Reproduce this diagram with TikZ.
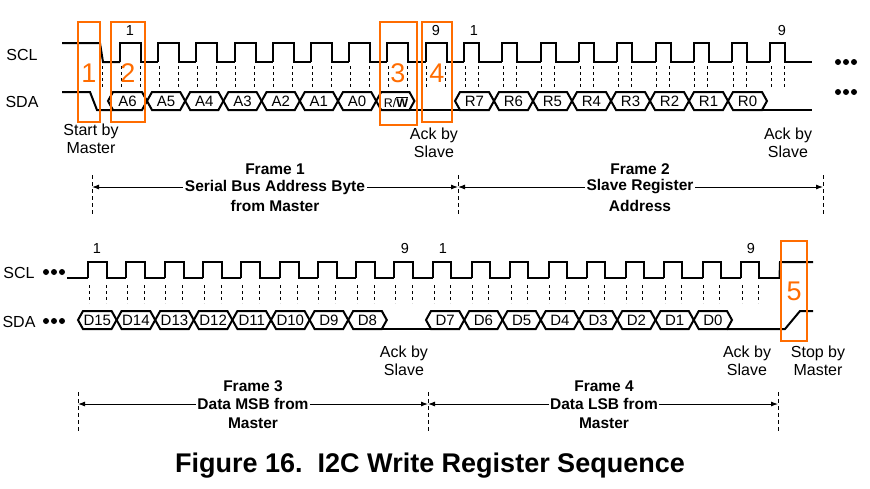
\documentclass[tikz,border=0pt]{standalone}
\usepackage{fontspec}
\setmainfont{Liberation Sans}
\usetikzlibrary{arrows.meta}
\begin{document}
\begin{tikzpicture}[x=1pt,y=-1pt,
  sig/.style={line width=2pt,line join=miter},
  grid/.style={dashed,line width=0.8pt,dash pattern=on 3pt off 3pt},
  lab/.style={font=\fontsize{16}{16}\selectfont,inner sep=0pt},
  hexl/.style={font=\fontsize{15}{15}\selectfont,inner sep=0pt},
  num/.style={font=\fontsize{14.5}{14.5}\selectfont,inner sep=0pt},
  ctext/.style={font=\fontsize{16}{18}\selectfont,align=center,inner sep=0pt},
  frm/.style={font=\bfseries\fontsize{15.5}{15.5}\selectfont,inner sep=1.5pt,fill=white},
  box/.style={draw=orange!85!red,line width=2.2pt},
  boxn/.style={text=orange!85!red,font=\fontsize{27}{27}\selectfont,inner sep=0pt},
  farr/.style={{Latex[length=7pt,width=5pt]}-{Latex[length=7pt,width=5pt]},line width=0.9pt},
  fdash/.style={dashed,line width=0.9pt,dash pattern=on 4pt off 3pt}]
\useasboundingbox (0,0) rectangle (870,488);
\newcommand{\hexcell}[5]{% xs xe ymid label name
  \draw[sig] (#1,#3) -- (#1+5,#3-9) -- (#2-5,#3-9) -- (#2,#3) -- (#2-5,#3+9) -- (#1+5,#3+9) -- cycle;
  \node[hexl] (#5) at ({(#1+#2)/2},#3) {#4};}
% ---------- top row ----------
\node[lab] (scl1) at (22,55) {SCL};
\node[lab] (sda1) at (22,102) {SDA};
\draw[sig] (62,43) -- (100,43) -- (103,62) -- (120,62);
\foreach \k in {0,...,8}{
  \pgfmathsetmacro\r{120+38.2*\k}
  \draw[sig] (\r,62) -- (\r,43) -- (\r+21,43) -- (\r+21,62) -- (\r+38.2,62);
  \draw[grid] (\r+1,66) -- (\r+1,88);
  \draw[grid] (\r+20,66) -- (\r+20,88);}
\draw[grid] (102,66) -- (102,88);
\foreach \k in {0,...,8}{
  \pgfmathsetmacro\r{464+38.3*\k}
  \draw[sig] (\r,62) -- (\r,43) -- (\r+15,43) -- (\r+15,62) -- (\r+38.3,62);
  \draw[grid] (\r+1,66) -- (\r+1,88);
  \draw[grid] (\r+14,66) -- (\r+14,88);}
\draw[sig] (800,62) -- (812,62);
\node[num] (n1a) at (130,31) {1};
\node[num] (n9a) at (436,31) {9};
\node[num] (n1b) at (474,31) {1};
\node[num] (n9b) at (782,31) {9};
% SDA top
\draw[sig] (62,92) -- (90,92) -- (97,110) -- (113,110);
\hexcell{108}{147}{101}{A6}{a6}
\foreach \l [count=\i] in {A5,A4,A3,A2,A1,A0}{
  \pgfmathsetmacro\s{147+38.2*(\i-1)}
  \hexcell{\s}{\s+38.2}{101}{\l}{a\i}}
\hexcell{376.2}{414.4}{101}{}{rw}
\node[font=\fontsize{12.5}{12.5}\selectfont,inner sep=0pt] (rwl) at (396,102) {R/$\overline{\hbox{\textbf{W}}}$};
\draw[sig] (409,110) -- (460,110);
\foreach \l [count=\i] in {R7,R6,R5,R4,R3,R2,R1,R0}{
  \pgfmathsetmacro\s{455+39*(\i-1)}
  \hexcell{\s}{\s+39}{101}{\l}{r\i}}
\draw[sig] (762,110) -- (812,110);
\foreach \x [count=\i] in {838,846,854}{
  \fill (\x,62) circle (3pt); \fill (\x,92) circle (3pt);}
% boxes top
\draw[box] (78,22) rectangle (100,122);
\draw[box] (111,22) rectangle (145,122);
\draw[box] (380,22) rectangle (417,125);
\draw[box] (422,22) rectangle (452,122);
\node[boxn] (b1) at (89,73) {1};
\node[boxn] (b2) at (128,73) {2};
\node[boxn] (b3) at (398,73) {3};
\node[boxn] (b4) at (437,73) {4};
\node[ctext] (start) at (91,139) {Start by\\Master};
\node[ctext] (ack1) at (434,143) {Ack by\\Slave};
\node[ctext] (ack2) at (788,143) {Ack by\\Slave};
% frames top
\draw[fdash] (92,175) -- (92,215);
\draw[fdash] (458,175) -- (458,215);
\draw[fdash] (823,175) -- (823,215);
\draw[farr] (92,187) -- (458,187);
\draw[farr] (458,187) -- (823,187);
\node[frm] (f1a) at (275,169) {Frame 1};
\node[frm] (f1b) at (275,187) {Serial Bus Address Byte};
\node[frm] (f1c) at (275,206) {from Master};
\node[frm] (f2a) at (640,169) {Frame 2};
\node[frm] (f2b) at (640,187) {Slave Register};
\node[frm] (f2c) at (640,206) {Address};
% ---------- bottom row ----------
\node[lab] (scl2) at (19,273) {SCL};
\node[lab] (sda2) at (19,322) {SDA};
\foreach \x in {46,54,62}{\fill (\x,272) circle (3pt); \fill (\x,321) circle (3pt);}
\draw[sig] (67,278) -- (88,278);
\foreach \k in {0,...,8}{
  \pgfmathsetmacro\r{88+38.3*\k}
  \draw[sig] (\r,278) -- (\r,262) -- (\r+19,262) -- (\r+19,278) -- (\r+38.3,278);
  \draw[grid] (\r+1,285) -- (\r+1,303);
  \draw[grid] (\r+18,285) -- (\r+18,303);}
\foreach \k in {0,...,8}{
  \pgfmathsetmacro\r{433+38.5*\k}
  \draw[sig] (\r,278) -- (\r,262) -- (\r+18,262) -- (\r+18,278) -- (\r+38.5,278);
  \draw[grid] (\r+1,285) -- (\r+1,303);
  \draw[grid] (\r+17,285) -- (\r+17,303);}
\draw[sig] (779.5,278) -- (780,262) -- (813,262);
\node[num] (n1c) at (97,249) {1};
\node[num] (n9c) at (405,249) {9};
\node[num] (n1d) at (443,249) {1};
\node[num] (n9d) at (751,249) {9};
\foreach \l [count=\i] in {D15,D14,D13,D12,D11,D10,D9,D8}{
  \pgfmathsetmacro\s{78+38.6*(\i-1)}
  \hexcell{\s}{\s+38.6}{320}{\l}{d\i}}
\draw[sig] (382,329) -- (431,329);
\foreach \l [count=\i] in {D7,D6,D5,D4,D3,D2,D1,D0}{
  \pgfmathsetmacro\s{426+38.25*(\i-1)}
  \hexcell{\s}{\s+38.25}{320}{\l}{e\i}}
\draw[sig] (727,329) -- (785,329) -- (800,311) -- (813,311);
\draw[box] (781,241) rectangle (807,341);
\node[boxn] (b5) at (794,291) {5};
\node[ctext] (ack3) at (404,361) {Ack by\\Slave};
\node[ctext] (ack4) at (747,361) {Ack by\\Slave};
\node[ctext] (stop) at (818,361) {Stop by\\Master};
\draw[fdash] (78,392) -- (78,432);
\draw[fdash] (428,392) -- (428,432);
\draw[fdash] (778,392) -- (778,432);
\draw[farr] (78,404) -- (428,404);
\draw[farr] (428,404) -- (778,404);
\node[frm] (f3a) at (253,386) {Frame 3};
\node[frm] (f3b) at (253,404) {Data MSB from};
\node[frm] (f3c) at (253,423) {Master};
\node[frm] (f4a) at (604,386) {Frame 4};
\node[frm] (f4b) at (604,404) {Data LSB from};
\node[frm] (f4c) at (604,423) {Master};
\node[font=\bfseries\fontsize{27}{27}\selectfont,inner sep=0pt] (capt) at (430,466) {Figure 16.\ \ I2C Write Register Sequence};
\end{tikzpicture}
\end{document}
